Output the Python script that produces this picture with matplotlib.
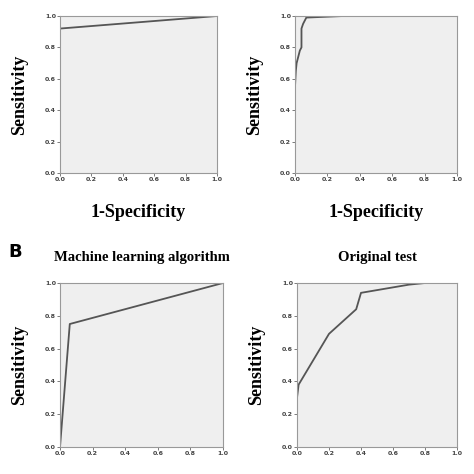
import matplotlib
matplotlib.use("Agg")
import matplotlib.pyplot as plt

tl_x = [0, 0, 1]; tl_y = [0, 0.92, 1]
tr_x = [0, 0, 0.005, 0.01, 0.03, 0.04, 0.04, 0.05, 0.07, 0.3, 1]
tr_y = [0, 0.55, 0.65, 0.70, 0.78, 0.80, 0.92, 0.95, 0.99, 1.0, 1.0]
bl_x = [0, 0.06, 1]; bl_y = [0, 0.75, 1]
br_x = [0, 0, 0.01, 0.2, 0.37, 0.4, 0.7, 0.8, 1]
br_y = [0, 0.30, 0.38, 0.69, 0.84, 0.94, 0.99, 1.0, 1.0]
ticks = [0.0, 0.2, 0.4, 0.6, 0.8, 1.0]

fig = plt.figure(figsize=(4.74, 4.74), dpi=100)
W = H = 474
boxes = [(60, 16, 217, 173, tl_x, tl_y, None),
         (295, 16, 457, 173, tr_x, tr_y, None),
         (60, 283, 223, 447, bl_x, bl_y, "Machine learning algorithm"),
         (297, 283, 457, 447, br_x, br_y, "Original test")]
serif = "Liberation Serif"
for x0, y0, x1, y1, xs, ys, title in boxes:
    ax = fig.add_axes([x0 / W, 1 - y1 / H, (x1 - x0) / W, (y1 - y0) / H])
    ax.set_facecolor("#efefef")
    ax.plot(xs, ys, color="#555555", lw=1.3)
    ax.set_xlim(0, 1); ax.set_ylim(0, 1)
    ax.set_xticks(ticks); ax.set_yticks(ticks)
    ax.set_xticklabels([f"{t:.1f}" for t in ticks], fontsize=4.5, fontweight="bold", color="#444444")
    ax.set_yticklabels([f"{t:.1f}" for t in ticks], fontsize=4.5, fontweight="bold", color="#444444")
    ax.tick_params(length=2, width=0.6, pad=1, colors="#666666", labelcolor="#444444")
    for s in ax.spines.values():
        s.set_color("#999999"); s.set_linewidth(0.8)
    ax.set_ylabel("Sensitivity", fontsize=13, fontweight="bold", family=serif, labelpad=12)
    ax.set_xlabel("1-Specificity", fontsize=13, fontweight="bold", family=serif, labelpad=16)
    if title:
        ax.set_title(title, fontsize=10.5, fontweight="bold", family=serif, pad=16)
fig.text(8 / W, 1 - 252 / H, "B", fontsize=13, fontweight="bold", va="center")
fig.savefig("out.png", dpi=100, facecolor="white")
